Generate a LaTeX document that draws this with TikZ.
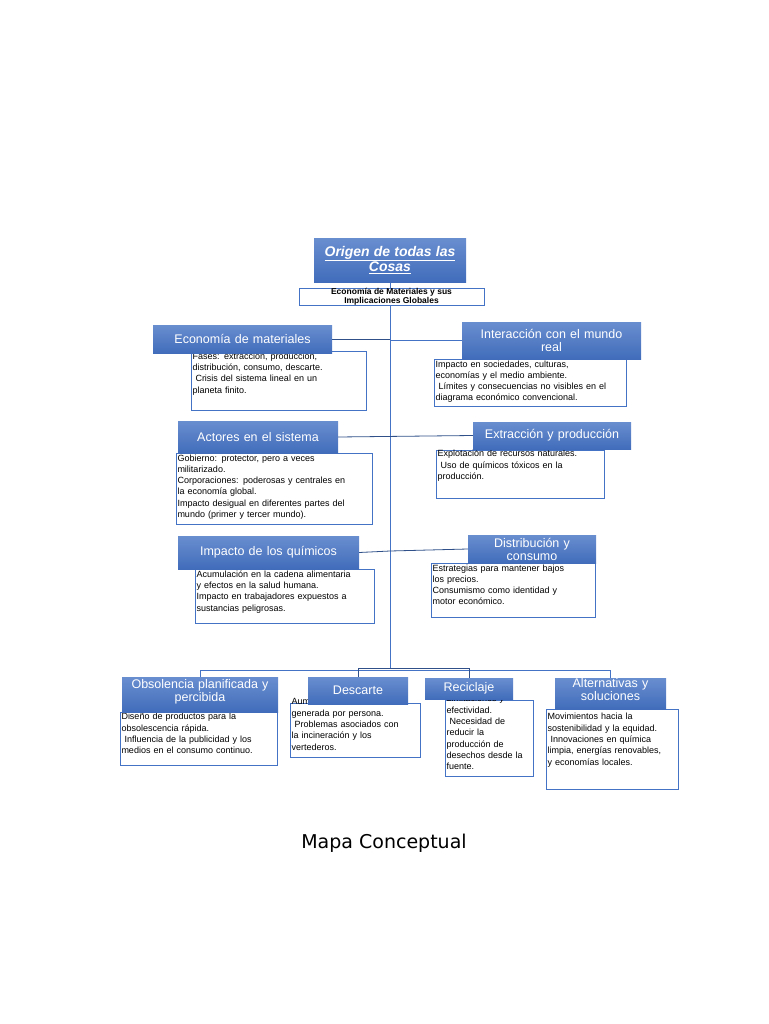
\documentclass[tikz,border=0pt]{standalone}
\usepackage{fontspec}
\setmainfont{Liberation Sans}
\newfontfamily\capfont{DejaVu Sans}
\definecolor{ln}{HTML}{4472C4}
\begin{document}
\begin{tikzpicture}[x=1pt,y=-1pt,
  hd/.style={draw=none,top color=ln!80!white,bottom color=ln!95!black,text=white,font=\fontsize{12.5}{13}\selectfont,align=center,inner sep=1pt},
  tb/.style={draw=ln,fill=white,inner sep=0pt},
  tx/.style={anchor=north west,inner sep=1.5pt,align=left,font=\fontsize{9}{11.3}\selectfont},
  cn/.style={draw=ln,line width=0.8pt}]
\useasboundingbox (0,0) rectangle (768,1024);
\newcommand\hdbox[6]{\node[hd,minimum width=#4-#2,minimum height=#5-#3,text width=#4-#2-4] (#1) at ({(#2+#4)/2},{(#3+#5)/2}) {#6};}
\newcommand\tbox[6]{\node[tb,minimum width=#4-#2,minimum height=#5-#3] (#1) at ({(#2+#4)/2},{(#3+#5)/2}) {};
  \node[tx,text width=#4-#2-3] at (#1.north west) {#6};}
% connectors
\coordinate (top) at (390,282);
\coordinate (bot) at (390,668);
\draw[cn] (top) -- (bot);
\hdbox{t}{314}{238}{466}{282}{\fontsize{14}{16}\selectfont\bfseries\itshape\underline{Origen de todas las}\\\underline{Cosas}}
\node[tb,minimum width=185,minimum height=17] (sub) at (391.5,296.5) {};
\node[font=\fontsize{8.5}{9}\selectfont\bfseries,align=center] at (sub) {Economía de Materiales y sus\\Implicaciones Globales};
\tbox{t1}{191}{351}{366}{410}{Fases: extracción, producción,\\distribución, consumo, descarte.\\ \ Crisis del sistema lineal en un\\planeta finito.}
\tbox{t2}{434}{359}{626}{406}{Impacto en sociedades, culturas,\\economías y el medio ambiente.\\ \ Límites y consecuencias no visibles en el\\diagrama económico convencional.}
\tbox{t3}{176}{453}{372}{524}{Gobierno: protector, pero a veces\\militarizado.\\Corporaciones: poderosas y centrales en\\la economía global.\\Impacto desigual en diferentes partes del\\mundo (primer y tercer mundo).}
\tbox{t4}{436}{450}{604}{498}{\\[-6pt]Explotación de recursos naturales.\\ \ Uso de químicos tóxicos en la\\producción.}
\tbox{t5}{195}{569}{374}{623}{Acumulación en la cadena alimentaria\\y efectos en la salud humana.\\Impacto en trabajadores expuestos a\\sustancias peligrosas.}
\tbox{t6}{431}{563}{595}{617}{Estrategias para mantener bajos\\los precios.\\Consumismo como identidad y\\motor económico.}
\hdbox{h1}{153}{325}{332}{353}{Economía de materiales}
\hdbox{h2}{462}{322}{641}{359}{Interacción con el mundo\\real}
\hdbox{h3}{178}{421}{338}{453}{Actores en el sistema}
\hdbox{h4}{473}{422}{631}{449}{Extracción y producción}
\hdbox{h5}{178}{536}{359}{569}{Impacto de los químicos}
\hdbox{h6}{468}{535}{596}{563}{Distribución y\\consumo}
\draw[cn,ln!70!black] (h1.east) -- (390,339);
\draw[cn] (390,340) -- (h2.west|-0,340);
\draw[cn,ln!70!black] (h3.east) -- (h4.west);
\draw[cn,ln!70!black] (h5.east) -- (390,551) -- (h6.west);
% bottom
\tbox{b1}{120}{712}{277}{765}{\\[-5pt]Diseño de productos para la\\obsolescencia rápida.\\ \ Influencia de la publicidad y los\\medios en el consumo continuo.}
\tbox{b2}{290}{703}{420}{757}{\\[-11pt]Aumento de la basura\\generada por persona.\\ \ Problemas asociados con\\la incineración y los\\vertederos.}
\tbox{b3}{445}{700}{533}{776}{\\[-11pt]Limitaciones y\\efectividad.\\ \ Necesidad de\\reducir la\\producción de\\desechos desde la\\fuente.}
\tbox{b4}{546}{709}{678}{789}{\\[-2pt]Movimientos hacia la\\sostenibilidad y la equidad.\\ \ Innovaciones en química\\limpia, energías renovables,\\y economías locales.}
\hdbox{g1}{122}{677}{278}{712}{\\[-10pt]Obsolencia planificada y\\percibida}
\hdbox{g2}{308}{677}{408}{704}{Descarte}
\hdbox{g3}{425}{678}{513}{699}{Reciclaje}
\hdbox{g4}{555}{678}{666}{709}{\\[-12pt]Alternativas y\\soluciones}
\draw[draw=ln,line width=0.6pt] (200,677) -- (200,670) -- (610,670) -- (610,678);
\draw[cn,ln!70!black] (bot) -- (358,668) -- (358,677);
\draw[cn,ln!70!black] (bot) -- (469,668) -- (469,678);
\node[font=\capfont\fontsize{19}{22}\selectfont] (cap) at (384,843) {Mapa Conceptual};
\end{tikzpicture}
\end{document}
